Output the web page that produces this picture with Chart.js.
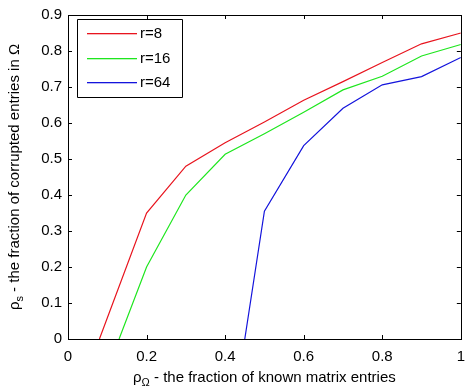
<!DOCTYPE html>
<html>
<head>
<meta charset="utf-8">
<script src="https://cdn.jsdelivr.net/npm/chart.js@4/dist/chart.umd.min.js"></script>
<style>
html,body{margin:0;padding:0;background:#fff;}
#wrap{width:474px;height:389px;position:relative;}
</style>
</head>
<body>
<div id="wrap"><canvas id="c" width="474" height="389"></canvas></div>
<script>
const seriesLabels = ["r=8", "r=16", "r=64"];
const seriesColors = ["#e8141e", "#1ee61e", "#1414dc"];
const xR8  = [0.08, 0.2, 0.3, 0.4, 0.5, 0.6, 0.7, 0.8, 0.9, 1.0];
const yR8  = [0, 0.35, 0.48, 0.545, 0.603, 0.663, 0.715, 0.768, 0.82, 0.85];
const xR16 = [0.13, 0.2, 0.3, 0.4, 0.5, 0.6, 0.7, 0.8, 0.9, 1.0];
const yR16 = [0, 0.2, 0.4, 0.513, 0.57, 0.63, 0.692, 0.73, 0.786, 0.818];
const xR64 = [0.45, 0.5, 0.6, 0.7, 0.8, 0.9, 1.0];
const yR64 = [0, 0.355, 0.537, 0.641, 0.706, 0.729, 0.782];
const xTicks = [0, 0.2, 0.4, 0.6, 0.8, 1];
const yTicks = [0, 0.1, 0.2, 0.3, 0.4, 0.5, 0.6, 0.7, 0.8, 0.9];
const xTitle = ["ρ", "Ω", " - the fraction of known matrix entries"];
const yTitle = ["ρ", "s", " - the fraction of corrupted entries in Ω"];

const FONT = "Liberation Sans, Arial, sans-serif";
const toPts = (xs, ys) => xs.map((x, i) => ({x: x, y: ys[i]}));

function measureSubTitle(ctx, parts, size) {
  ctx.font = size + "px " + FONT;
  const w0 = ctx.measureText(parts[0]).width;
  ctx.font = Math.round(size * 0.75) + "px " + FONT;
  const w1 = ctx.measureText(parts[1]).width;
  ctx.font = size + "px " + FONT;
  const w2 = ctx.measureText(parts[2]).width;
  return {w0, w1, w2, total: w0 + w1 + w2};
}
function renderSubTitle(ctx, parts, size, x, y) {
  const m = measureSubTitle(ctx, parts, size);
  ctx.textAlign = "left";
  ctx.textBaseline = "alphabetic";
  ctx.font = size + "px " + FONT;
  ctx.fillText(parts[0], x, y);
  ctx.font = Math.round(size * 0.75) + "px " + FONT;
  ctx.fillText(parts[1], x + m.w0, y + 4);
  ctx.font = size + "px " + FONT;
  ctx.fillText(parts[2], x + m.w0 + m.w1, y);
}

const matlabPlugin = {
  id: "matlab",
  afterDraw(chart) {
    const ctx = chart.ctx;
    const a = chart.chartArea;
    const xs = chart.scales.x, ys = chart.scales.y;
    ctx.save();
    ctx.strokeStyle = "#000";
    ctx.lineWidth = 1;
    ctx.strokeRect(Math.round(a.left) + 0.5, Math.round(a.top) + 0.5, Math.round(a.right - a.left), Math.round(a.bottom - a.top));
    const tl = 4;
    ctx.beginPath();
    xTicks.forEach(v => {
      const px = Math.round(xs.getPixelForValue(v)) + 0.5;
      ctx.moveTo(px, a.bottom); ctx.lineTo(px, a.bottom - tl);
      ctx.moveTo(px, a.top); ctx.lineTo(px, a.top + tl);
    });
    yTicks.forEach(v => {
      const py = Math.round(ys.getPixelForValue(v)) + 0.5;
      ctx.moveTo(a.left, py); ctx.lineTo(a.left + tl, py);
      ctx.moveTo(a.right, py); ctx.lineTo(a.right - tl, py);
    });
    ctx.stroke();

    // legend
    const lx = 77, ly = 19, lw = 105, lh = 78;
    ctx.fillStyle = "#fff";
    ctx.fillRect(lx, ly, lw, lh);
    ctx.strokeStyle = "#000";
    ctx.lineWidth = 1;
    ctx.beginPath();
    ctx.rect(lx + 0.5, ly + 0.5, lw, lh);
    ctx.stroke();
    const rows = [33, 57.5, 82];
    for (let i = 0; i < seriesLabels.length; i++) {
      ctx.fillStyle = seriesColors[i];
      ctx.fillRect(87, Math.round(rows[i]), 50, 1.3);
      ctx.fillStyle = "#000";
      ctx.font = "15px " + FONT;
      ctx.textAlign = "left";
      ctx.textBaseline = "middle";
      ctx.fillText(seriesLabels[i], 140, rows[i] + 1);
    }

    // axis titles
    ctx.fillStyle = "#000";
    const size = 15;
    const mx = measureSubTitle(ctx, xTitle, size);
    const cx = (a.left + a.right) / 2;
    renderSubTitle(ctx, xTitle, size, cx - mx.total / 2, 382);
    const my = measureSubTitle(ctx, yTitle, size);
    const cy = (a.top + a.bottom) / 2;
    ctx.translate(19, cy);
    ctx.rotate(-Math.PI / 2);
    renderSubTitle(ctx, yTitle, size, -my.total / 2, 0);
    ctx.restore();
  }
};

new Chart(document.getElementById("c"), {
  type: "scatter",
  data: {
    datasets: [
      {label: seriesLabels[0], data: toPts(xR8, yR8), borderColor: seriesColors[0]},
      {label: seriesLabels[1], data: toPts(xR16, yR16), borderColor: seriesColors[1]},
      {label: seriesLabels[2], data: toPts(xR64, yR64), borderColor: seriesColors[2]}
    ].map(d => Object.assign(d, {showLine: true, pointRadius: 0, borderWidth: 1.2, tension: 0, fill: false, backgroundColor: d.borderColor}))
  },
  options: {
    responsive: false,
    animation: false,
    devicePixelRatio: 1,
    layout: {padding: {left: 0, top: 12, right: 5, bottom: 0}},
    plugins: {legend: {display: false}, tooltip: {enabled: false}},
    scales: {
      x: {
        type: "linear", min: 0, max: 1,
        afterBuildTicks: s => { s.ticks = xTicks.map(v => ({value: v})); },
        afterFit: s => { s.height = 50; },
        grid: {display: false, drawTicks: false},
        border: {display: false},
        ticks: {font: {family: FONT, size: 15}, color: "#000", padding: 9, maxRotation: 0,
                callback: v => String(Math.round(v * 10) / 10)}
      },
      y: {
        type: "linear", min: 0, max: 0.9,
        afterBuildTicks: s => { s.ticks = yTicks.map(v => ({value: v})); },
        afterFit: s => { s.width = 68; },
        grid: {display: false, drawTicks: false},
        border: {display: false},
        ticks: {font: {family: FONT, size: 15}, color: "#000", padding: 6,
                callback: v => String(Math.round(v * 10) / 10)}
      }
    }
  },
  plugins: [matlabPlugin]
});
</script>
</body>
</html>
